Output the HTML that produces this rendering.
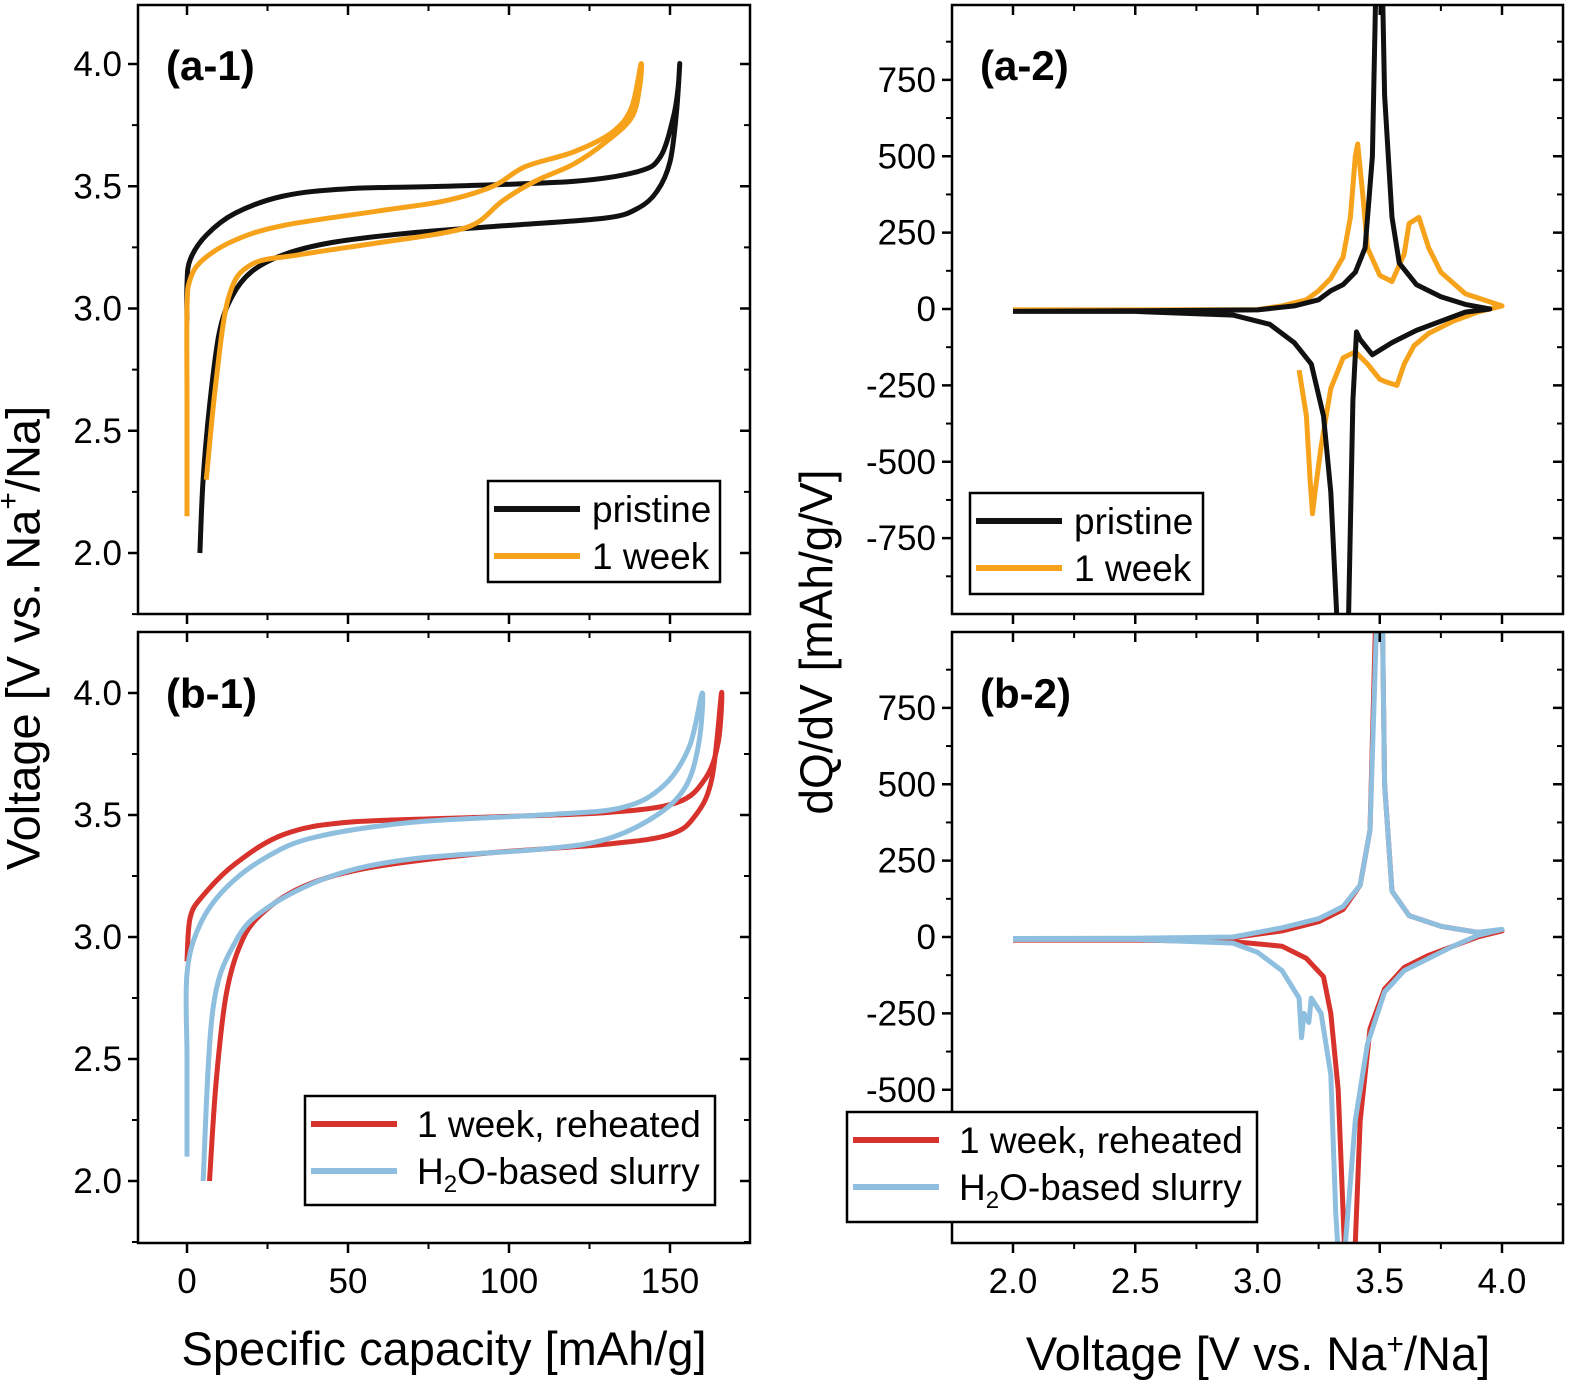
<!DOCTYPE html>
<html><head><meta charset="utf-8">
<style>
html,body{margin:0;padding:0;background:#fff;}
svg{display:block;font-family:"Liberation Sans",Arial,sans-serif;}
</style></head>
<body>
<svg id="s" width="1570" height="1385" viewBox="0 0 1570 1385" xmlns="http://www.w3.org/2000/svg">
<g id="g"></g>
<text x="27" y="638" font-size="47" text-anchor="middle" transform="rotate(-90 27 638)" dominant-baseline="middle">Voltage [V vs. Na<tspan baseline-shift="super" font-size="30">+</tspan>/Na]</text>
<text x="820" y="642" font-size="46" text-anchor="middle" transform="rotate(-90 820 642)" dominant-baseline="middle">dQ/dV [mAh/g/V]</text>
<text x="444" y="1365" font-size="47" text-anchor="middle">Specific capacity [mAh/g]</text>
<text x="1258" y="1370" font-size="47" text-anchor="middle">Voltage [V vs. Na<tspan baseline-shift="super" font-size="30">+</tspan>/Na]</text>
</svg>
<script>
const NS="http://www.w3.org/2000/svg";
const g=document.getElementById('g');
function el(t,a,txt){const e=document.createElementNS(NS,t);for(const k in a)e.setAttribute(k,a[k]);if(txt!==undefined)e.textContent=txt;g.appendChild(e);return e;}
function smooth(P){let d='M'+P[0][0].toFixed(1)+','+P[0][1].toFixed(1);
 for(let i=0;i<P.length-1;i++){const p0=P[Math.max(i-1,0)],p1=P[i],p2=P[i+1],p3=P[Math.min(i+2,P.length-1)];
  const c1=[p1[0]+(p2[0]-p0[0])/6,p1[1]+(p2[1]-p0[1])/6],c2=[p2[0]-(p3[0]-p1[0])/6,p2[1]-(p3[1]-p1[1])/6];
  d+='C'+c1.map(v=>v.toFixed(1)).join(',')+' '+c2.map(v=>v.toFixed(1)).join(',')+' '+p2.map(v=>v.toFixed(1)).join(',');}
 return d;}
function panel(P){
  const {x0,x1,y0,y1}=P;
  const id='c'+Math.round(x0)+Math.round(y0);
  const cp=el('clipPath',{id});const r=document.createElementNS(NS,'rect');
  r.setAttribute('x',x0);r.setAttribute('y',y0);r.setAttribute('width',x1-x0);r.setAttribute('height',y1-y0);cp.appendChild(r);
  for(const s of P.series){
    const pts=s.pts.map(p=>[P.fx(p[0]),P.fy(p[1])]);
    const d=P.sm?smooth(pts):pts.map((p,i)=>(i?'L':'M')+p[0].toFixed(1)+','+p[1].toFixed(1)).join('');
    el('path',{d,fill:'none',stroke:s.c,'stroke-width':5,'stroke-linejoin':'round','clip-path':`url(#${id})`});
  }
  el('rect',{x:x0,y:y0,width:x1-x0,height:y1-y0,fill:'none',stroke:'#000','stroke-width':2.5});
  for(const t of P.ymaj){const y=P.fy(t);
    el('line',{x1:x0-10,y1:y,x2:x0,y2:y,stroke:'#000','stroke-width':2.5});
    el('line',{x1:x1,y1:y,x2:x1-10,y2:y,stroke:'#000','stroke-width':2.5});
    if(P.ylab) el('text',{x:x0-16,y:y+12,'font-size':35,'text-anchor':'end'},P.yfmt(t));}
  for(const t of P.ymin){const y=P.fy(t);
    el('line',{x1:x0-6,y1:y,x2:x0,y2:y,stroke:'#000','stroke-width':2});
    el('line',{x1:x1,y1:y,x2:x1-6,y2:y,stroke:'#000','stroke-width':2});}
  for(const t of P.xmaj){const x=P.fx(t);
    el('line',{x1:x,y1:y1,x2:x,y2:y1+10,stroke:'#000','stroke-width':2.5});
    el('line',{x1:x,y1:y0,x2:x,y2:y0+10,stroke:'#000','stroke-width':2.5});
    if(P.xlab) el('text',{x:x,y:y1+50,'font-size':35,'text-anchor':'middle'},P.xfmt(t));}
  for(const t of P.xmin){const x=P.fx(t);
    el('line',{x1:x,y1:y1,x2:x,y2:y1+6,stroke:'#000','stroke-width':2});
    el('line',{x1:x,y1:y0,x2:x,y2:y0+6,stroke:'#000','stroke-width':2});}
  el('text',{x:P.lx,y:P.ly,'font-size':42,'font-weight':'bold'},P.label);
  const L=P.leg;
  el('rect',{x:L.x,y:L.y,width:L.w,height:L.h,fill:'#fff',stroke:'#000','stroke-width':2.5});
  L.items.forEach((it,i)=>{const yy=L.y+28+i*47;
    el('line',{x1:L.x+6,y1:yy,x2:L.x+92,y2:yy,stroke:it.c,'stroke-width':6});
    const t=el('text',{x:L.x+(L.tx||104),y:yy+13,'font-size':37});
    if(it.h2o){t.innerHTML='H<tspan font-size="24" dy="8">2</tspan><tspan dy="-8">O-based slurry</tspan>';}else t.textContent=it.t;});
}
const cx=c=>187+c*3.22;
const fmt1=v=>v.toFixed(1);
const fmt0=v=>String(v);
const blk='#111',org='#f7a21b',red='#d7322b',blu='#8fbfdf';
panel({x0:138,x1:750,y0:5,y1:614,fx:cx,fy:v=>553-(v-2)*244.5,sm:1,
 ymaj:[2,2.5,3,3.5,4],ymin:[1.75,2.25,2.75,3.25,3.75],ylab:1,yfmt:fmt1,
 xmaj:[0,50,100,150],xmin:[25,75,125],xlab:0,label:'(a-1)',lx:166,ly:80,
 series:[
 {c:blk,pts:[[4,2.0],[5,2.3],[7,2.6],[10,2.9],[14,3.05],[20,3.15],[30,3.22],[45,3.27],[70,3.31],[100,3.34],[130,3.37],[140,3.41],[146,3.48],[150,3.6],[152,3.8],[153,4.0],[152.5,3.9],[151,3.78],[147,3.62],[140,3.56],[120,3.52],[80,3.5],[50,3.49],[30,3.46],[15,3.39],[6,3.3],[1,3.2],[0,3.1],[0,2.95]]},
 {c:org,pts:[[0,2.15],[0,2.6],[0,3.0],[1,3.12],[5,3.2],[15,3.28],[30,3.34],[60,3.4],[80,3.44],[95,3.5],[105,3.58],[120,3.64],[132,3.72],[138,3.82],[141,4.0],[140.5,3.9],[138,3.78],[130,3.68],[120,3.59],[108,3.52],[98,3.44],[90,3.35],[80,3.31],[60,3.27],[35,3.22],[20,3.18],[13,3.05],[9,2.7],[6,2.3]]}],
 leg:{x:488,y:481,w:232,h:101,items:[{c:blk,t:'pristine'},{c:org,t:'1 week'}]}});
panel({x0:138,x1:750,y0:632,y1:1243,fx:cx,fy:v=>1181-(v-2)*244,sm:1,
 ymaj:[2,2.5,3,3.5,4],ymin:[1.75,2.25,2.75,3.25,3.75],ylab:1,yfmt:fmt1,
 xmaj:[0,50,100,150],xmin:[25,75,125],xlab:1,xfmt:fmt0,label:'(b-1)',lx:166,ly:708,
 series:[
 {c:red,pts:[[7,2.0],[9,2.4],[12,2.75],[16,2.95],[22,3.08],[35,3.2],[55,3.28],[90,3.34],[130,3.38],[150,3.42],[158,3.5],[163,3.65],[166,4.0],[165,3.8],[161,3.65],[152,3.55],[130,3.51],[90,3.49],[50,3.47],[30,3.42],[15,3.3],[5,3.17],[1,3.08],[0,2.9]]},
 {c:blu,pts:[[0,2.1],[0,2.5],[0,2.85],[4,3.05],[12,3.2],[25,3.33],[40,3.41],[70,3.47],[110,3.5],[135,3.53],[148,3.62],[156,3.78],[160,4.0],[159,3.8],[155,3.62],[146,3.5],[130,3.4],[110,3.36],[70,3.32],[45,3.25],[25,3.12],[15,2.98],[8,2.7],[5,2.0]]}],
 leg:{x:305,y:1096,w:410,h:109,tx:112,items:[{c:red,t:'1 week, reheated'},{c:blu,h2o:1}]}});
const vx=v=>1013+(v-2)*244.5;
panel({x0:952,x1:1563,y0:5,y1:614,fx:vx,fy:q=>309-q*0.3055,
 ymaj:[-750,-500,-250,0,250,500,750],ymin:[-875,-625,-375,-125,125,375,625,875],ylab:1,yfmt:fmt0,
 xmaj:[2,2.5,3,3.5,4],xmin:[2.25,2.75,3.25,3.75],xlab:0,label:'(a-2)',lx:980,ly:80,
 series:[
 {c:org,pts:[[2,-3],[2.5,-3],[3.0,-2],[3.1,10],[3.2,30],[3.25,60],[3.3,100],[3.35,170],[3.38,300],[3.4,500],[3.41,540],[3.43,380],[3.45,200],[3.5,110],[3.55,90],[3.6,180],[3.62,280],[3.66,300],[3.7,200],[3.75,120],[3.85,50],[4.0,10],[3.9,-10],[3.8,-40],[3.7,-80],[3.64,-120],[3.6,-180],[3.57,-250],[3.53,-240],[3.5,-230],[3.45,-180],[3.4,-140],[3.35,-160],[3.3,-260],[3.26,-450],[3.235,-600],[3.225,-670],[3.215,-560],[3.2,-350],[3.17,-200]]},
 {c:blk,pts:[[2,-8],[2.5,-6],[3.0,-3],[3.15,10],[3.25,30],[3.3,60],[3.35,80],[3.4,120],[3.44,200],[3.47,500],[3.485,1100],[3.51,1100],[3.52,700],[3.55,300],[3.58,150],[3.65,80],[3.75,40],[3.85,15],[3.95,0],[3.85,-10],[3.75,-40],[3.65,-70],[3.55,-110],[3.47,-150],[3.42,-100],[3.405,-75],[3.39,-300],[3.37,-1100],[3.33,-1100],[3.3,-600],[3.27,-350],[3.22,-180],[3.15,-110],[3.05,-50],[2.9,-20],[2.5,-8],[2.0,-8]]}],
 leg:{x:970,y:493,w:233,h:101,items:[{c:blk,t:'pristine'},{c:org,t:'1 week'}]}});
panel({x0:952,x1:1563,y0:632,y1:1243,fx:vx,fy:q=>937-q*0.3055,
 ymaj:[-500,-250,0,250,500,750],ymin:[-875,-750,-625,-375,-125,125,375,625,875],ylab:1,yfmt:fmt0,
 xmaj:[2,2.5,3,3.5,4],xmin:[2.25,2.75,3.25,3.75],xlab:1,xfmt:fmt1,label:'(b-2)',lx:980,ly:708,
 series:[
 {c:red,pts:[[2,-8],[2.5,-6],[2.9,-2],[3.1,20],[3.25,50],[3.35,90],[3.42,170],[3.46,350],[3.485,1100],[3.51,1100],[3.52,500],[3.55,150],[3.62,70],[3.75,35],[3.9,15],[4.0,20],[3.9,0],[3.8,-30],[3.7,-60],[3.6,-100],[3.52,-170],[3.46,-300],[3.42,-600],[3.395,-1100],[3.36,-1100],[3.33,-500],[3.3,-250],[3.27,-130],[3.2,-70],[3.1,-30],[2.9,-15],[2.5,-10],[2,-10]]},
 {c:blu,pts:[[2,-5],[2.5,-4],[2.9,0],[3.1,30],[3.25,60],[3.35,100],[3.42,170],[3.46,350],[3.49,1100],[3.51,1100],[3.52,500],[3.55,150],[3.62,70],[3.75,35],[3.9,15],[4.0,25],[3.9,5],[3.8,-30],[3.7,-70],[3.6,-110],[3.52,-180],[3.45,-350],[3.4,-600],[3.36,-1000],[3.335,-1100],[3.32,-900],[3.3,-450],[3.26,-250],[3.22,-200],[3.21,-280],[3.19,-250],[3.18,-330],[3.17,-200],[3.1,-110],[3.0,-50],[2.9,-20],[2.5,-8],[2,-8]]}],
 leg:{x:847,y:1112,w:410,h:110,tx:112,items:[{c:red,t:'1 week, reheated'},{c:blu,h2o:1}]}});
</script>
</body></html>
